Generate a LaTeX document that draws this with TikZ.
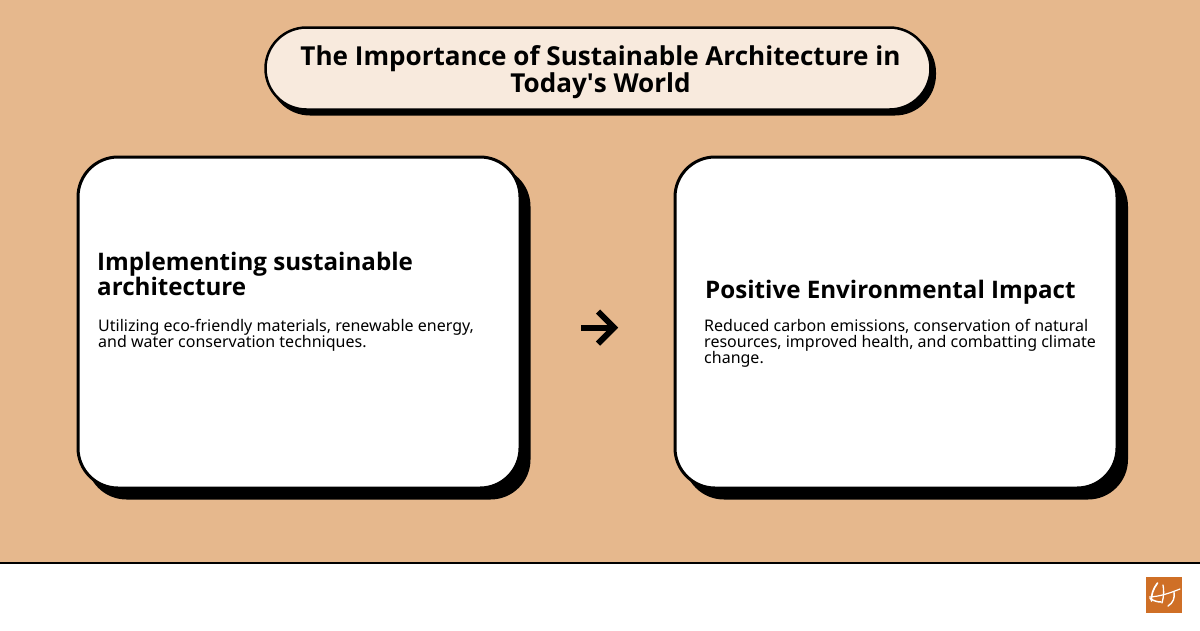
\documentclass[tikz,border=0pt]{standalone}
\usepackage{fontspec}
\setmainfont{Noto Sans}
\newfontfamily\headfont{Open Sans}
\definecolor{pagebg}{HTML}{E6B88D}
\definecolor{titlefill}{HTML}{F8EADD}
\definecolor{logofill}{HTML}{CF6F26}
\tikzset{
  x=1pt,y=-1pt,
  cardbox/.style={draw=black,line width=3pt,fill=white,rounded corners=40pt,minimum width=442pt,minimum height=331pt,inner sep=0pt,outer sep=0pt,anchor=north west},
  cardshadow/.style={fill=black,rounded corners=40pt,minimum width=444pt,minimum height=333pt,inner sep=0pt,outer sep=0pt,anchor=north west},
  titlebox/.style={draw=black,line width=2.5pt,fill=titlefill,rounded corners=41pt,minimum width=665pt,minimum height=82pt,inner sep=0pt,outer sep=0pt,anchor=north west},
  titleshadow/.style={fill=black,rounded corners=41pt,minimum width=667pt,minimum height=84pt,inner sep=0pt,outer sep=0pt,anchor=north west},
  titletext/.style={font=\headfont\fontsize{26.08}{26}\selectfont\bfseries,align=center,inner sep=0pt,anchor=north},
  headtext/.style={font=\headfont\fontsize{24.15}{24}\selectfont\bfseries,align=left,inner sep=0pt,anchor=north west},
  bodytext/.style={font=\fontsize{16}{16}\selectfont,align=left,inner sep=0pt,anchor=north west},
}
\begin{document}
\begin{tikzpicture}
\useasboundingbox (0,0) rectangle (1200,630);
\fill[pagebg] (0,0) rectangle (1200,562);
\fill[white] (0,562) rectangle (1200,630);
\draw[black,line width=2pt] (0,562.5) -- (1200,562.5);
% title
\node[titleshadow] (titlesh) at (269,31.5) {};
\node[titlebox] (title) at (265.5,27.5) {};
\node[titletext] (titlet) at (600.5,45) {The Importance of Sustainable Architecture in\\Today\textquotesingle s World};
% cards
\node[cardshadow] (leftsh) at (86.5,166.5) {};
\node[cardbox] (left) at (78,157) {};
\node[cardshadow] (rightsh) at (684,166.5) {};
\node[cardbox] (right) at (675,157) {};
% text
\node[headtext] (lefth) at (97,252) {Implementing sustainable\\architecture};
\node[bodytext] (leftb) at (98,319) {Utilizing eco-friendly materials, renewable energy,\\and water conservation techniques.};
\node[headtext] (righth) at (705,280) {Positive Environmental Impact};
\node[bodytext] (rightb) at (704,319) {Reduced carbon emissions, conservation of natural\\resources, improved health, and combatting climate\\change.};
% arrow
\coordinate (atail) at (581,327.5);
\coordinate (atip) at (614,327.5);
\coordinate (aup) at (598,311.5);
\coordinate (adown) at (598,343.5);
\draw[black,line width=6pt] (atail) -- (atip);
\draw[black,line width=6pt,miter limit=10] (aup) -- (atip) -- (adown);
% logo
\node[fill=logofill,minimum width=36pt,minimum height=36pt,inner sep=0pt,outer sep=0pt,anchor=north west] (logo) at (1146,577) {};
\draw[white,line width=1.7pt,line cap=round] (1157.5,583) .. controls (1153,589) and (1151,595) .. (1151.5,601);
\draw[white,line width=1.3pt,line cap=round] (1163,585) .. controls (1164,590) and (1164,596) .. (1162,603);
\draw[white,line width=1.2pt,line cap=round] (1149.5,597) .. controls (1160,596.5) and (1170,593) .. (1180,589);
\draw[white,line width=1.4pt,line cap=round] (1174,592) .. controls (1175,598) and (1173,603) .. (1168,606);
\draw[white,line width=1.5pt,line cap=round] (1150,598.5) .. controls (1153,600.5) and (1157,602) .. (1161,602);
\end{tikzpicture}
\end{document}
